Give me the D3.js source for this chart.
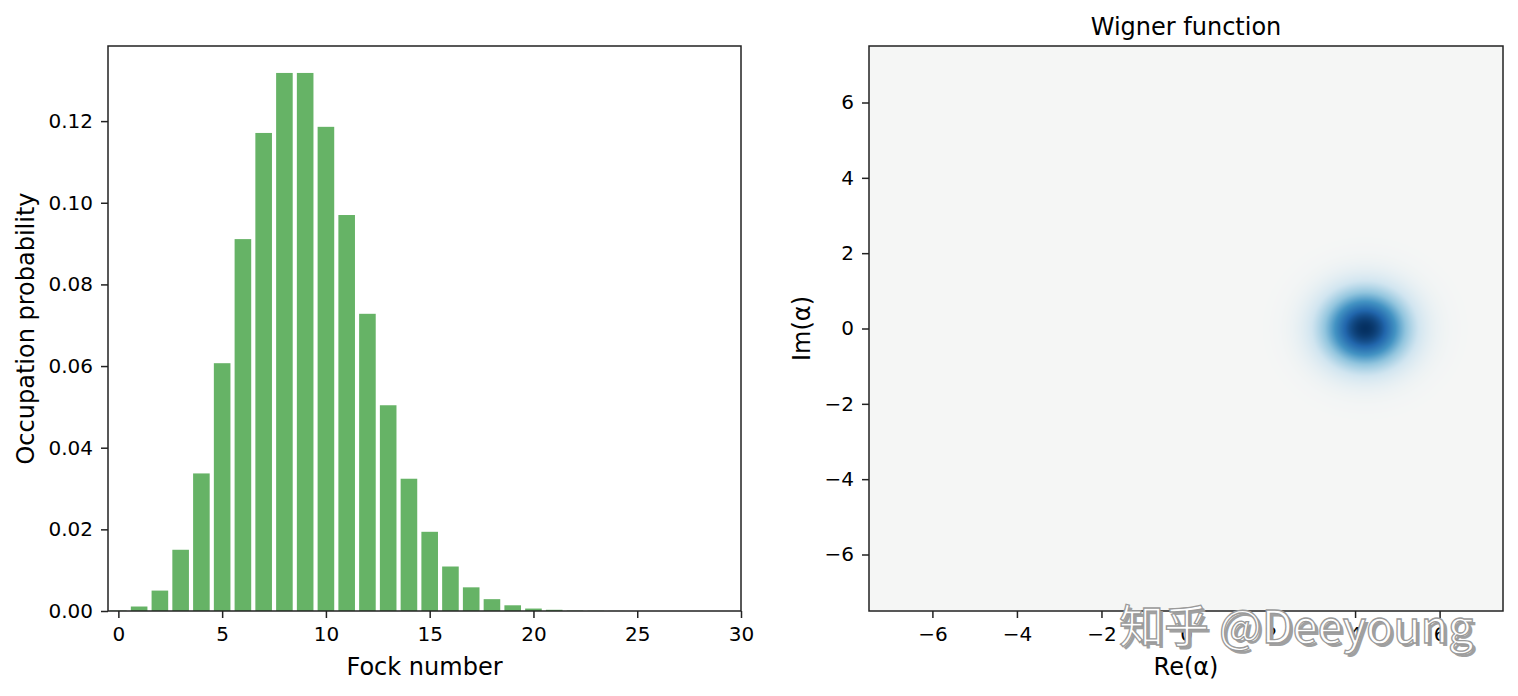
<!DOCTYPE html>
<html>
<head>
<meta charset="utf-8">
<script src="https://cdn.jsdelivr.net/npm/d3@7"></script>
<style>
  html, body { margin: 0; padding: 0; background: #ffffff; }
  svg { display: block; }
  text { font-family: "DejaVu Sans", sans-serif; fill: #000; }
</style>
</head>
<body>
<svg id="chart" width="1518" height="696"></svg>
<script>
// ---------------- data ----------------
const fockNumbers = d3.range(0, 30);
const fockProb = [
  0.0001, 0.0011, 0.0050, 0.0150, 0.0337, 0.0607, 0.0911, 0.1171, 0.1318, 0.1318,
  0.1186, 0.0970, 0.0728, 0.0504, 0.0324, 0.0194, 0.0109, 0.0058, 0.0029, 0.0014,
  0.0006, 0.0003, 0.0001, 0.00005, 0.00002, 0, 0, 0, 0, 0
];
const fockXTicks = [0, 5, 10, 15, 20, 25, 30];
const fockYTicks = [0.00, 0.02, 0.04, 0.06, 0.08, 0.10, 0.12];

// Wigner function: coherent-state blob
const wignerCenter = [4.24, 0.0];     // peak position (Re, Im)
const wignerPeak = [0.318];           // peak height
const wignerSigma = [0.707];          // gaussian width
const wignerTicks = [-6, -4, -2, 0, 2, 4, 6];
const wignerRange = [-7.5, 7.5];
// matplotlib RdBu colour stops
const rdbuStops = ["#67001f", "#b2182b", "#d6604d", "#f4a582", "#fddbc7", "#f5f6f5",
                   "#d1e5f0", "#92c5de", "#4393c3", "#2166ac", "#053061"];

// ---------------- layout ----------------
const svg = d3.select("#chart");
const L = { x0: 108, x1: 741, y0: 46, y1: 611 };
const R = { x0: 869, x1: 1503, y0: 46, y1: 611 };
const tickLen = 7, tickPad = 5;
const spineColor = "#222";

// ---------------- left: Fock distribution ----------------
const xL = d3.scaleLinear().domain([-0.5, 30]).range([L.x0, L.x1]);
const yL = d3.scaleLinear().domain([0, 0.1384]).range([L.y1, L.y0]);

svg.append("g").selectAll("rect")
  .data(fockNumbers)
  .join("rect")
  .attr("x", d => xL(d - 0.4))
  .attr("width", d => xL(d + 0.4) - xL(d - 0.4))
  .attr("y", d => yL(fockProb[d]))
  .attr("height", d => yL(0) - yL(fockProb[d]))
  .attr("fill", "#008000")
  .attr("fill-opacity", 0.6);

function styleAxis(g) {
  g.selectAll("path").remove();
  g.selectAll("line").attr("stroke", spineColor).attr("stroke-width", 1.5);
  g.selectAll("text").style("font-size", "20px").style("font-family", "'DejaVu Sans', sans-serif").attr("fill", "#000");
}

svg.append("g").attr("transform", `translate(0,${L.y1})`)
  .call(d3.axisBottom(xL).tickValues(fockXTicks).tickFormat(d3.format("d")).tickSizeInner(tickLen).tickSizeOuter(0).tickPadding(tickPad))
  .call(styleAxis)
  .call(g => g.selectAll("text").attr("dy", "0.9em"));

svg.append("g").attr("transform", `translate(${L.x0},0)`)
  .call(d3.axisLeft(yL).tickValues(fockYTicks).tickFormat(d3.format(".2f")).tickSizeInner(tickLen).tickSizeOuter(0).tickPadding(tickPad + 3))
  .call(styleAxis);

svg.append("rect")
  .attr("x", L.x0).attr("y", L.y0)
  .attr("width", L.x1 - L.x0).attr("height", L.y1 - L.y0)
  .attr("fill", "none").attr("stroke", spineColor).attr("stroke-width", 1.5);

svg.append("text")
  .attr("x", (L.x0 + L.x1) / 2).attr("y", 675)
  .attr("text-anchor", "middle").style("font-size", "24px")
  .text("Fock number");

svg.append("text")
  .attr("transform", `translate(34,${(L.y0 + L.y1) / 2}) rotate(-90)`)
  .attr("text-anchor", "middle").style("font-size", "24px")
  .text("Occupation probability");

// ---------------- right: Wigner function ----------------
const xR = d3.scaleLinear().domain(wignerRange).range([R.x0, R.x1]);
const yR = d3.scaleLinear().domain(wignerRange).range([R.y1, R.y0]);
const colorR = d3.scaleLinear()
  .domain(d3.range(rdbuStops.length).map(i => -wignerPeak[0] + 2 * wignerPeak[0] * i / (rdbuStops.length - 1)))
  .range(rdbuStops)
  .interpolate(d3.interpolateRgb)
  .clamp(true);

const cw = R.x1 - R.x0, ch = R.y1 - R.y0;
const canvas = document.createElement("canvas");
canvas.width = cw; canvas.height = ch;
const ctx = canvas.getContext("2d");
const img = ctx.createImageData(cw, ch);
for (let j = 0; j < ch; j++) {
  const yv = yR.invert(R.y0 + j + 0.5);
  for (let i = 0; i < cw; i++) {
    const xv = xR.invert(R.x0 + i + 0.5);
    const r2 = (xv - wignerCenter[0]) ** 2 + (yv - wignerCenter[1]) ** 2;
    const w = wignerPeak[0] * Math.exp(-r2 / (2 * wignerSigma[0] ** 2));
    const c = d3.rgb(colorR(w));
    const k = (j * cw + i) * 4;
    img.data[k] = c.r; img.data[k + 1] = c.g; img.data[k + 2] = c.b; img.data[k + 3] = 255;
  }
}
ctx.putImageData(img, 0, 0);
svg.append("image")
  .attr("x", R.x0).attr("y", R.y0)
  .attr("width", cw).attr("height", ch)
  .attr("preserveAspectRatio", "none")
  .attr("href", canvas.toDataURL());

svg.append("g").attr("transform", `translate(0,${R.y1})`)
  .call(d3.axisBottom(xR).tickValues(wignerTicks).tickFormat(d3.format("d")).tickSizeInner(tickLen).tickSizeOuter(0).tickPadding(tickPad))
  .call(styleAxis)
  .call(g => g.selectAll("text").attr("dy", "0.9em"));

svg.append("g").attr("transform", `translate(${R.x0},0)`)
  .call(d3.axisLeft(yR).tickValues(wignerTicks).tickFormat(d3.format("d")).tickSizeInner(tickLen).tickSizeOuter(0).tickPadding(tickPad + 3))
  .call(styleAxis);

svg.append("rect")
  .attr("x", R.x0).attr("y", R.y0)
  .attr("width", cw).attr("height", ch)
  .attr("fill", "none").attr("stroke", spineColor).attr("stroke-width", 1.5);

svg.append("text")
  .attr("x", (R.x0 + R.x1) / 2).attr("y", 34.5)
  .attr("text-anchor", "middle").style("font-size", "24px")
  .text("Wigner function");

svg.append("text")
  .attr("x", (R.x0 + R.x1) / 2).attr("y", 675)
  .attr("text-anchor", "middle").style("font-size", "24px")
  .text("Re(α)");

svg.append("text")
  .attr("transform", `translate(810,${(R.y0 + R.y1) / 2}) rotate(-90)`)
  .attr("text-anchor", "middle").style("font-size", "24px")
  .text("Im(α)");

// ---------------- watermark ----------------
const wm = svg.append("g").style("font-family", "'Noto Sans CJK SC', 'Noto Sans', sans-serif").style("font-size", "45px");
wm.append("text").attr("x", 1122).attr("y", 646)
  .style("font-family", "inherit").style("fill", "#a0a0a0")
  .text("知乎 @Deeyoung");
wm.append("text").attr("x", 1119).attr("y", 643)
  .style("font-family", "inherit").style("fill", "#ffffff")
  .attr("stroke", "#9a9a9a").attr("stroke-width", 1.3)
  .text("知乎 @Deeyoung");
</script>
</body>
</html>
